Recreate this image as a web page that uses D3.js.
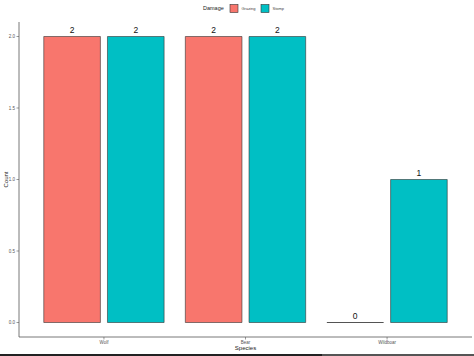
<!DOCTYPE html>
<html>
<head>
<meta charset="utf-8">
<script src="https://cdn.jsdelivr.net/npm/d3@7"></script>
<style>
  html, body { margin: 0; padding: 0; background: #fff; }
  svg { display: block; font-family: "Liberation Sans", Arial, sans-serif; }
</style>
</head>
<body>
<svg id="chart" width="474" height="356"></svg>
<script>
const species = ["Wolf", "Bear", "Wildboar"];
const damageTypes = ["Grazing", "Stomp"];
const grazingCounts = [2, 2, 0];
const stompCounts = [2, 2, 1];
const yTicks = [0, 0.5, 1, 1.5, 2];
const colors = ["#F8766D", "#00BFC4"];

const data = [];
species.forEach((s, i) => {
  data.push({ species: s, damage: "Grazing", count: grazingCounts[i] });
  data.push({ species: s, damage: "Stomp", count: stompCounts[i] });
});

const svg = d3.select("#chart");
const W = 474, H = 356;
const panel = { left: 19, right: 472, top: 22, bottom: 337 };

// discrete x scale with ggplot expansion of 0.6 units
const n = species.length;
const xUnit = d3.scaleLinear().domain([1 - 0.6, n + 0.6]).range([panel.left, panel.right]);
const x = d => xUnit(species.indexOf(d) + 1);
const step = xUnit(2) - xUnit(1);
const y = d3.scaleLinear().domain([0, 2]).range([322.5, 36.5]);
const color = d3.scaleOrdinal().domain(damageTypes).range(colors);
const dodge = d3.scaleBand().domain(damageTypes).range([-0.45 * step, 0.45 * step]).paddingInner(0);
const barW = 0.4 * step;
const cx = d => x(d.species) + dodge(d.damage) + dodge.bandwidth() / 2;

// bars (as closed paths so that zero-height bars still show their outline)
svg.append("g").selectAll("path").data(data).enter().append("path")
  .attr("d", d => {
    const p = d3.path();
    const x0 = cx(d) - barW / 2, x1 = cx(d) + barW / 2;
    p.moveTo(x0, y(0));
    p.lineTo(x0, y(d.count));
    p.lineTo(x1, y(d.count));
    p.lineTo(x1, y(0));
    p.closePath();
    return p.toString();
  })
  .attr("fill", d => color(d.damage))
  .attr("stroke", "#333")
  .attr("stroke-width", 0.6);

// value labels
svg.append("g").selectAll("text").data(data).enter().append("text")
  .attr("x", d => cx(d))
  .attr("y", d => y(d.count) - 3.5)
  .attr("text-anchor", "middle")
  .attr("font-size", 8.5)
  .attr("fill", "#111")
  .text(d => d.count);

// axes
const yAxis = svg.append("g").attr("transform", `translate(${panel.left},0)`);
yAxis.append("line").attr("x1", 0).attr("x2", 0).attr("y1", panel.top).attr("y2", panel.bottom)
  .attr("stroke", "#555").attr("stroke-width", 0.8);
yTicks.forEach(t => {
  yAxis.append("line").attr("x1", -2.5).attr("x2", 0).attr("y1", y(t)).attr("y2", y(t))
    .attr("stroke", "#555").attr("stroke-width", 0.6);
  yAxis.append("text").attr("x", -4).attr("y", y(t)).attr("dy", "0.35em")
    .attr("text-anchor", "end").attr("font-size", 4.5).attr("fill", "#555")
    .text(d3.format(".1f")(t));
});

const xAxis = svg.append("g").attr("transform", `translate(0,${panel.bottom})`);
xAxis.append("line").attr("x1", panel.left).attr("x2", panel.right).attr("y1", 0).attr("y2", 0)
  .attr("stroke", "#555").attr("stroke-width", 0.8);
species.forEach(s => {
  xAxis.append("line").attr("x1", x(s)).attr("x2", x(s)).attr("y1", 0).attr("y2", 2.5)
    .attr("stroke", "#555").attr("stroke-width", 0.6);
  xAxis.append("text").attr("x", x(s)).attr("y", 6.5)
    .attr("text-anchor", "middle").attr("font-size", 4.5).attr("fill", "#555").text(s);
});

// axis titles
svg.append("text").attr("x", (panel.left + panel.right) / 2).attr("y", 350)
  .attr("text-anchor", "middle").attr("font-size", 6).attr("fill", "#222").text("Species");
svg.append("text").attr("transform", `translate(8,${(panel.top + panel.bottom) / 2}) rotate(-90)`)
  .attr("text-anchor", "middle").attr("font-size", 6).attr("fill", "#222").text("Count");

// legend
const lg = svg.append("g");
lg.append("text").attr("x", 203).attr("y", 8.5).attr("dy", "0.35em")
  .attr("font-size", 5.5).attr("fill", "#222").text("Damage");
const legendX = [230, 261];
damageTypes.forEach((dmg, i) => {
  lg.append("rect").attr("x", legendX[i]).attr("y", 4.5).attr("width", 8).attr("height", 8)
    .attr("fill", color(dmg)).attr("stroke", "#333").attr("stroke-width", 0.6);
  lg.append("text").attr("x", legendX[i] + 11.5).attr("y", 8.5).attr("dy", "0.35em")
    .attr("font-size", 4).attr("fill", "#444").text(dmg);
});

// bottom screenshot strip
svg.append("rect").attr("x", 0).attr("y", 354).attr("width", 322).attr("height", 2).attr("fill", "#222");
svg.append("rect").attr("x", 322).attr("y", 354).attr("width", W - 322).attr("height", 2).attr("fill", "#555");
</script>
</body>
</html>
